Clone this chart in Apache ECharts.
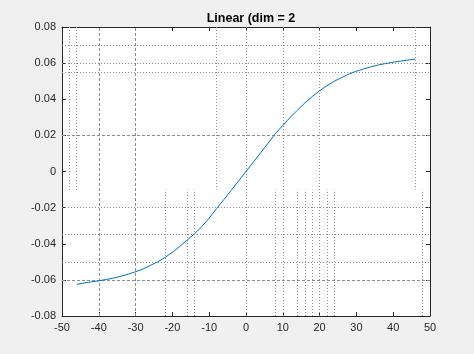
<!DOCTYPE html>
<html>
<head>
<meta charset="utf-8">
<script src="https://cdn.jsdelivr.net/npm/echarts@6/dist/echarts.min.js"></script>
<style>
  html, body { margin: 0; padding: 0; background: #f0f0f0; }
  #chart { width: 474px; height: 354px; }
</style>
</head>
<body>
<div id="chart"></div>
<script>
// curve samples
const xValues = [-46, -44, -42, -40, -38, -36, -34, -32, -30, -28, -26, -24, -22, -20, -18, -16, -14, -12, -10, -8, -6, -4, -2,
  0, 2, 4, 6, 8, 10, 12, 14, 16, 18, 20, 22, 24, 26, 28, 30, 32, 34, 36, 38, 40, 42, 44, 46]
const yValues = [-0.0625, -0.0617, -0.0611, -0.0605, -0.0598, -0.059, -0.058, -0.0568, -0.0555, -0.054, -0.052, -0.05, -0.0476, -0.0447, -0.0415, -0.038, -0.0345, -0.0305, -0.0258, -0.0205, -0.0155, -0.0104, -0.0052,
  0, 0.0052, 0.0104, 0.0157, 0.021, 0.0255, 0.03, 0.034, 0.038, 0.0415, 0.0447, 0.0475, 0.05, 0.052, 0.054, 0.0555, 0.0568, 0.058, 0.059, 0.0598, 0.0605, 0.0611, 0.0617, 0.0622]

// tick labels
const xTicks = [-50, -40, -30, -20, -10, 0, 10, 20, 30, 40, 50]
const yTicks = [-0.08, -0.06, -0.04, -0.02, 0, 0.02, 0.04, 0.06, 0.08]

// grid lines
const hDashed = [0.02, -0.06]
const hDotted = [0.07, 0.06, 0.055, -0.02, -0.035, -0.05]
const vDashed = [-40, -30]
const vDotted = [0, 10, 20]
const vTopDotted = [-48, -46, -8, 46] // from top down to -0.01
const vBottomDotted = [-22, -16, -14, 8, 14, 16, 18, 22, 24, 48] // from bottom up to -0.01
const segEnd = -0.01

const gridColor = '#8c8c8c'
const dotted = [1, 2]
const dashed = [3, 2]

function hLines (arr) {
  return arr.map(v => [{ coord: [-50, v] }, { coord: [50, v] }])
}
function vLines (arr, y1, y2) {
  return arr.map(v => [{ coord: [v, y1] }, { coord: [v, y2] }])
}
function gridSeries (data, type) {
  return {
    type: 'line',
    data: [],
    silent: true,
    markLine: {
      silent: true,
      symbol: 'none',
      animation: false,
      label: { show: false },
      lineStyle: { color: gridColor, width: 1, type: type },
      emphasis: { disabled: true },
      data: data
    }
  }
}

const chart = echarts.init(document.getElementById('chart'))
const font = 'Arial, "Liberation Sans", sans-serif'
const axisCommon = {
  type: 'value',
  axisLine: { show: true, onZero: false, lineStyle: { color: '#262626', width: 1 } },
  axisTick: { show: true, inside: true, length: 4, lineStyle: { color: '#262626' } },
  splitLine: { show: false }
}

chart.setOption({
  animation: false,
  backgroundColor: '#f0f0f0',
  title: {
    text: 'Linear (dim = 2',
    left: 246,
    textAlign: 'center',
    top: 7,
    textStyle: { fontFamily: font, fontSize: 12.5, fontWeight: 'bold', color: '#000' }
  },
  grid: { left: 62, right: 44, top: 27, bottom: 38, show: true, backgroundColor: '#fff', borderWidth: 0 },
  xAxis: [
    Object.assign({}, axisCommon, {
      min: xTicks[0], max: xTicks[xTicks.length - 1], interval: 10,
      axisLabel: { fontFamily: font, fontSize: 11, color: '#262626', margin: 6 }
    }),
    Object.assign({}, axisCommon, {
      position: 'top', min: xTicks[0], max: xTicks[xTicks.length - 1], interval: 10,
      axisLabel: { show: false }
    })
  ],
  yAxis: [
    Object.assign({}, axisCommon, {
      min: yTicks[0], max: yTicks[yTicks.length - 1], interval: 0.02,
      axisLabel: { fontFamily: font, fontSize: 11, color: '#262626', margin: 6,
        formatter: v => Math.abs(v) < 1e-9 ? '0' : v.toFixed(2) }
    }),
    Object.assign({}, axisCommon, {
      position: 'right', min: yTicks[0], max: yTicks[yTicks.length - 1], interval: 0.02,
      axisLabel: { show: false }
    })
  ],
  series: [
    gridSeries(hLines(hDotted), dotted),
    gridSeries(hLines(hDashed), dashed),
    gridSeries(vLines(vDotted, -0.08, 0.08), dotted),
    gridSeries(vLines(vDashed, -0.08, 0.08), dashed),
    gridSeries(vLines(vTopDotted, 0.08, segEnd), dotted),
    gridSeries(vLines(vBottomDotted, -0.08, segEnd), dotted),
    {
      type: 'line',
      data: xValues.map((x, i) => [x, yValues[i]]),
      showSymbol: false,
      smooth: false,
      lineStyle: { color: '#0072bd', width: 1 },
      z: 5
    }
  ]
})
</script>
</body>
</html>
